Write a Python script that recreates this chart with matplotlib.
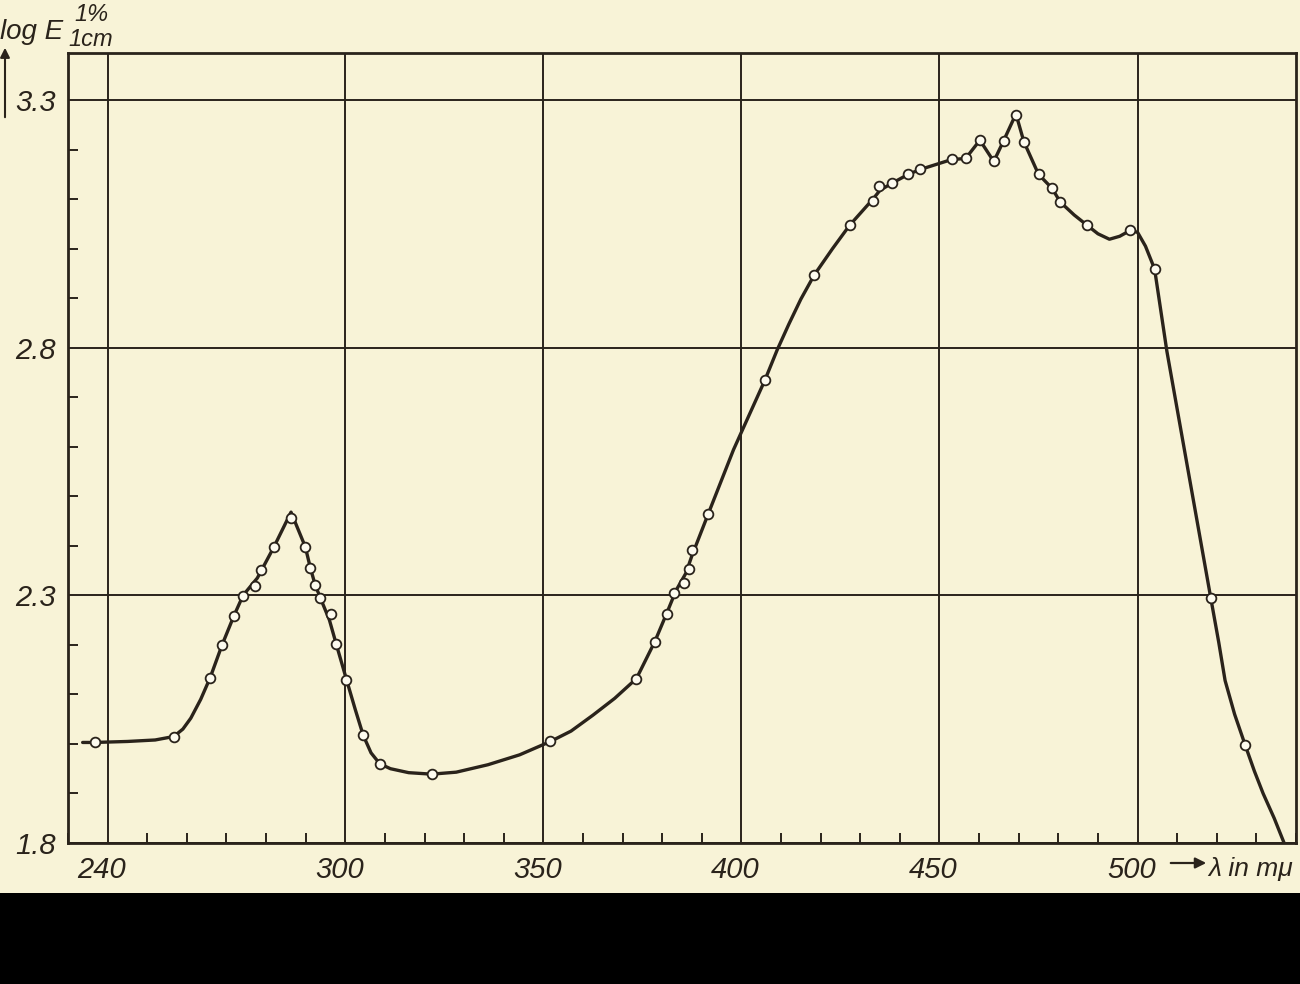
import matplotlib
matplotlib.use('Agg')
import matplotlib.pyplot as plt
from matplotlib.ticker import MultipleLocator
from matplotlib.transforms import ScaledTranslation
from matplotlib.patches import Rectangle

plt.rcParams['font.family'] = ['Liberation Sans', 'DejaVu Sans']

# ---- data ----
# measured points (open circles)
lam_pts = [236.7, 256.7, 265.9, 268.9, 271.9, 274.2, 277.2, 278.8, 282.0, 286.3,
           289.9, 291.2, 292.4, 293.7, 296.5, 297.7, 300.3, 304.5, 308.7, 321.8,
           351.8, 373.5, 378.1, 381.1, 383.0, 385.5, 386.8, 387.5, 391.6, 405.9,
           418.4, 427.3, 433.2, 434.7, 438.0, 442.1, 445.2, 453.1, 456.6, 460.2,
           463.7, 466.2, 469.3, 471.3, 475.0, 478.4, 480.5, 487.3, 498.2, 504.3,
           518.5, 527.2]
logE_pts = [2.003, 2.015, 2.134, 2.200, 2.259, 2.299, 2.319, 2.351, 2.398, 2.456,
            2.398, 2.355, 2.321, 2.295, 2.263, 2.202, 2.130, 2.018, 1.960, 1.939,
            2.005, 2.132, 2.206, 2.263, 2.305, 2.325, 2.353, 2.392, 2.464, 2.734,
            2.947, 3.047, 3.096, 3.126, 3.132, 3.150, 3.160, 3.180, 3.182, 3.219,
            3.176, 3.218, 3.269, 3.216, 3.150, 3.122, 3.094, 3.047, 3.037, 2.959,
            2.294, 1.997]

# hand-drawn curve vertices
curve_lam = [233.7, 236.7, 245.0, 252.0, 256.7, 259.0, 261.0, 263.5, 265.9, 268.9,
             271.9, 274.2, 277.8, 282.0, 286.3, 289.9, 291.2, 292.4, 293.7, 296.0,
             297.7, 300.3, 302.5, 304.5, 306.5, 308.7, 311.4, 316.0, 321.8, 328.0,
             336.0, 344.0, 351.8, 357.0, 362.5, 368.0, 373.5, 378.1, 381.1, 383.5,
             386.0, 387.5, 391.6, 398.0, 405.9, 409.0, 412.0, 415.0, 418.4, 423.0,
             427.3, 433.2, 435.0, 438.0, 442.1, 445.2, 453.1, 456.6, 460.2, 463.7,
             466.2, 469.3, 471.3, 475.0, 478.4, 480.5, 484.0, 487.3, 490.0, 492.9,
             495.5, 498.2, 500.0, 502.0, 504.3, 507.4, 518.5, 520.5, 522.1, 524.5,
             527.2, 529.5, 531.7, 534.5, 537.0]
curve_logE = [2.003, 2.003, 2.005, 2.008, 2.015, 2.030, 2.052, 2.090, 2.134, 2.200,
              2.259, 2.300, 2.335, 2.398, 2.468, 2.398, 2.355, 2.321, 2.295, 2.250,
              2.202, 2.130, 2.070, 2.018, 1.982, 1.960, 1.950, 1.942, 1.939, 1.943,
              1.958, 1.978, 2.005, 2.026, 2.058, 2.092, 2.132, 2.206, 2.263, 2.310,
              2.345, 2.380, 2.464, 2.594, 2.734, 2.795, 2.848, 2.898, 2.947, 3.000,
              3.047, 3.100, 3.118, 3.132, 3.150, 3.160, 3.180, 3.182, 3.219, 3.176,
              3.218, 3.272, 3.216, 3.150, 3.122, 3.094, 3.068, 3.047, 3.030, 3.019,
              3.025, 3.037, 3.033, 3.005, 2.959, 2.793, 2.294, 2.205, 2.128, 2.060,
              1.997, 1.945, 1.900, 1.850, 1.800]

x_major = [240, 300, 350, 400, 450, 500]
x_labels = ['240', '300', '350', '400', '450', '500']
y_major = [1.8, 2.3, 2.8, 3.3]
y_labels = ['1.8', '2.3', '2.8', '3.3']

BG = '#f8f3d7'
INK = '#2a231b'
W, H = 1300, 984

fig = plt.figure(figsize=(W / 100, H / 100), dpi=100, facecolor=BG)
ax = fig.add_axes([68 / W, 141 / H, 1228 / W, 790 / H])
ax.set_facecolor(BG)
ax.set_xlim(230, 540)
ax.set_ylim(1.8, 3.395)

ax.set_xticks(x_major)
ax.set_xticklabels(x_labels)
ax.set_yticks(y_major)
ax.set_yticklabels(y_labels)
ax.xaxis.set_minor_locator(MultipleLocator(10))
ax.yaxis.set_minor_locator(MultipleLocator(0.1))
ax.grid(True, which='major', color=INK, lw=1.4)
ax.set_axisbelow(True)
ax.tick_params(which='major', length=0, pad=9, labelsize=21, labelcolor=INK)
ax.tick_params(which='minor', direction='in', length=7, width=1.4, color=INK)
for s in ax.spines.values():
    s.set_color(INK)
    s.set_linewidth(2.0)

for lab in ax.get_xticklabels():
    lab.set_fontstyle('italic')
    lab.set_transform(lab.get_transform() + ScaledTranslation(-0.06, 0, fig.dpi_scale_trans))
for lab in ax.get_yticklabels():
    lab.set_fontstyle('italic')

ax.plot(curve_lam, curve_logE, color=INK, lw=2.4, solid_joinstyle='round',
        solid_capstyle='round', zorder=3)
ax.plot(lam_pts, logE_pts, 'o', ms=7, mfc='#fdfbef', mec=INK, mew=1.3, zorder=4,
        clip_on=False)

def fx(x):
    return x / W

def fy(y):
    return 1 - y / H

# y-axis title with arrow
fig.text(fx(0), fy(39), 'log E', fontsize=20, style='italic', color=INK,
         ha='left', va='baseline')
fig.text(fx(74), fy(21), '1%', fontsize=17, style='italic', color=INK,
         ha='left', va='baseline')
fig.text(fx(68), fy(46), '1cm', fontsize=17, style='italic', color=INK,
         ha='left', va='baseline')
ax.annotate('', xy=(fx(5), fy(45)), xytext=(fx(5), fy(120)),
            xycoords='figure fraction', textcoords='figure fraction',
            arrowprops=dict(arrowstyle='-|>', color=INK, lw=1.5, mutation_scale=14))

# x-axis title with arrow
ax.annotate('', xy=(fx(1209), fy(863)), xytext=(fx(1168), fy(863)),
            xycoords='figure fraction', textcoords='figure fraction',
            arrowprops=dict(arrowstyle='-|>', color=INK, lw=1.6, mutation_scale=16))
fig.text(fx(1208), fy(876), 'λ in mμ', fontsize=19, style='italic', color=INK,
         ha='left', va='baseline')

# dark band at the bottom of the picture
fig.patches.append(Rectangle((0, 0), 1, 91 / H, transform=fig.transFigure,
                             facecolor='black', edgecolor='none', zorder=-1))

fig.savefig('out.png', dpi=100, facecolor=BG)
